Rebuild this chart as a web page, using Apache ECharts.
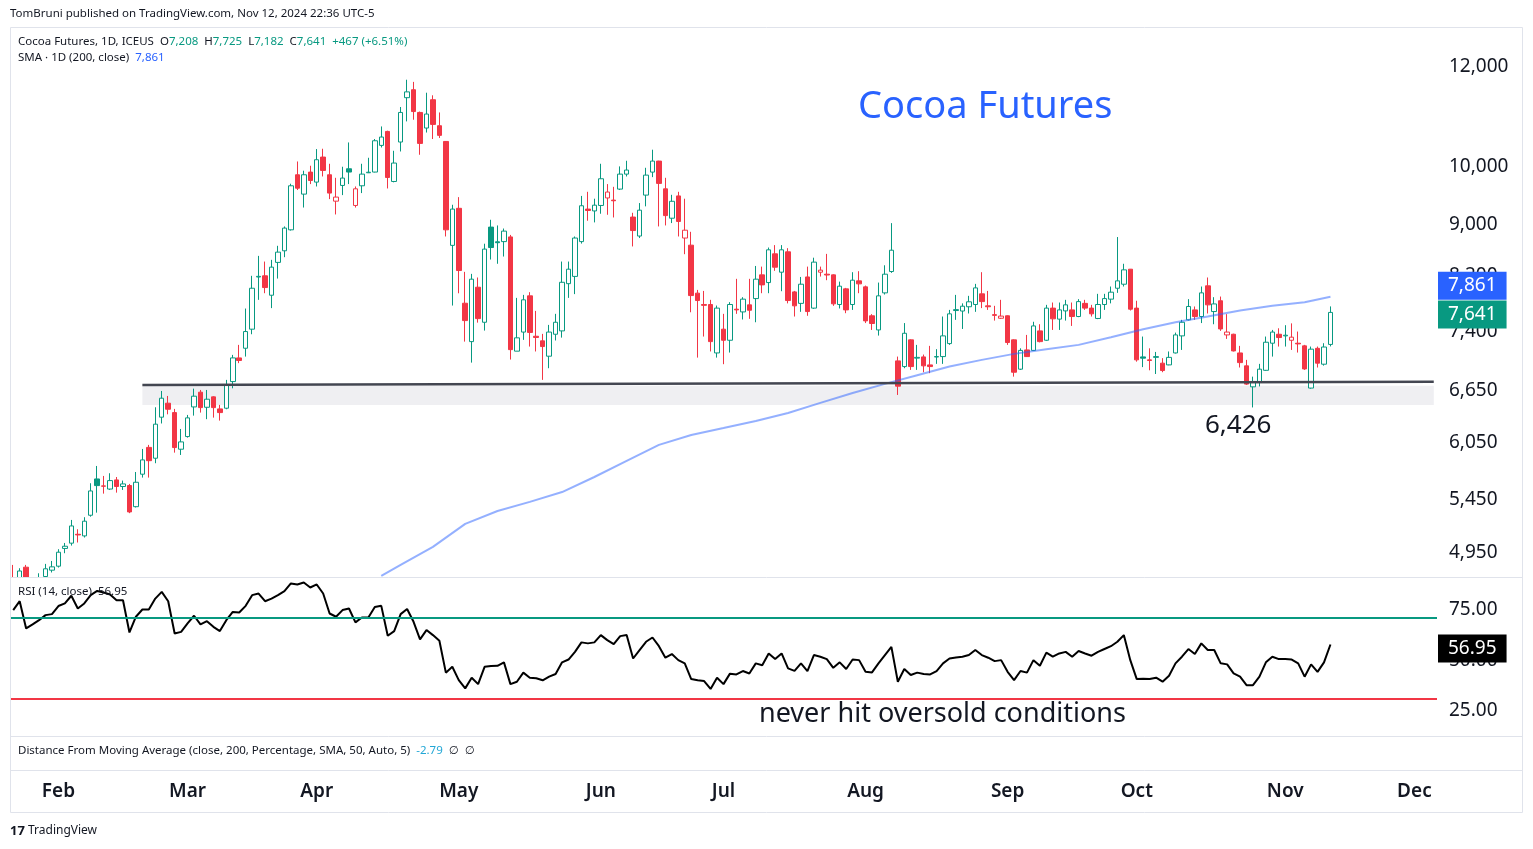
<!DOCTYPE html>
<html>
<head>
<meta charset="utf-8">
<title>Cocoa Futures</title>
<script src="https://cdn.jsdelivr.net/npm/echarts@6/dist/echarts.min.js"></script>
<style>
html, body { margin: 0; padding: 0; background: #fff; }
#chart { width: 1533px; height: 849px; }
</style>
</head>
<body>
<div id="chart"></div>
<script>
// ICE US cocoa, daily bars from 23 Jan 2024 to 12 Nov 2024
var openPx = [4700,4700,4803,4680,4650,4722,4777,4812,4970,5018,
  5100,5085,5280,5641,5570,5538,5631,5564,5574,5363,
  5690,5975,5858,6313,6476,6366,5955,6094,6432,6607,
  6428,6551,6409,6417,6736,7033,7158,7411,8150,8168,
  7884,8370,8549,8882,9819,9479,9867,9689,10141,9819,
  9358,9630,9927,9285,9624,9855,9868,10359,10626,9700,
  10423,11300,11465,11000,10692,11258,10737,10434,8634,9237,
  7770,7245,8000,7505,8926,8690,8693,8768,7120,7372,
  7875,7316,7255,7055,7343,7388,8052,8159,8693,9224,
  9193,9285,9413,9376,9566,9831,9091,8782,9462,9867,
  10067,9571,9072,9448,8750,8637,7914,7752,7752,7097,
  7411,7263,7686,7648,7747,7836,8182,8068,8502,8222,
  8533,7932,7768,8151,7701,8222,8192,8182,7752,7976,
  7752,8093,8005,7594,7401,7918,8232,6995,6923,7268,
  7030,7046,6944,7045,7050,7219,7667,7660,7720,7752,
  7904,7733,7610,7560,7594,7268,6890,7136,7130,7388,
  7263,7701,7548,7662,7676,7584,7768,7701,7557,7752,
  7828,7985,8044,8267,7701,7046,7008,7040,6966,6944,
  7097,7321,7538,7676,7584,8020,7653,7805,7334,7343,
  7097,6932,6672,6730,6876,7224,7343,7321,7263,7224,
  7189,6657,7157,6953,7208];
var highPx = [4823,4794,4823,4705,4750,4832,4858,4963,5020,5235,
  5147,5261,5597,5776,5672,5700,5661,5624,5590,5713,
  5958,6002,6428,6622,6562,6409,6179,6339,6650,6634,
  6634,6558,6456,6757,7072,7202,7695,8168,8470,8383,
  8409,8627,8937,9660,10060,9892,9982,10290,10296,10018,
  9765,9964,10415,9612,10018,10128,10480,10723,10640,10258,
  11110,11676,11630,11018,11403,11349,11000,10440,9297,9427,
  8227,8197,8143,8660,9046,8953,8903,8800,7846,7889,
  7928,7662,7348,7469,7621,8383,8383,8775,9448,9519,
  9400,10018,9654,9606,9970,10073,9162,9326,9945,10278,
  10073,9765,9467,9519,9400,8850,7961,7946,7818,7737,
  7621,7785,8123,7856,8123,8316,8306,8600,8638,8638,
  8590,7946,8151,8306,8442,8306,8501,8190,8082,7990,
  8222,8237,8024,7617,8068,8326,8991,7050,7494,7275,
  7202,7076,7189,7146,7584,7676,7889,7768,7875,8049,
  8222,7946,7733,7818,7600,7275,7157,7334,7512,7478,
  7747,7780,7780,7818,7780,7828,7818,7747,7904,7904,
  8010,8766,8349,8270,7805,7312,7157,7110,7030,7116,
  7365,7538,7828,7724,8010,8143,7856,7865,7617,7350,
  7189,7008,6797,6957,7312,7401,7423,7465,7490,7379,
  7202,7180,7180,7224,7725];
var lowPx = [4640,4680,4660,4610,4620,4700,4757,4800,4927,4996,
  5024,5070,5266,5305,5492,5529,5502,5529,5300,5355,
  5655,5655,5805,6241,6346,5918,5893,6082,6331,6366,
  6290,6308,6274,6405,6654,6966,7050,7343,7818,7913,
  7701,8127,8450,8870,9550,9250,9654,9612,9789,9393,
  9134,9462,9654,9250,9497,9850,9862,10320,9577,9685,
  10245,10822,10855,10184,10605,10480,10500,8775,7737,7912,
  7245,6973,7500,7392,8414,8349,8460,7012,7120,7268,
  7180,7116,6757,6902,7260,7298,7846,7900,8662,9030,
  9003,9146,9129,9084,9550,9789,8617,8750,9270,9777,
  8937,8953,8992,8775,8496,7643,7037,7312,7116,7037,
  6953,7102,7621,7543,7552,7505,7913,7913,8242,7942,
  7768,7584,7649,7594,7690,8157,8103,7733,7696,7630,
  7676,7913,7494,7401,7325,7894,8212,6574,6902,6881,
  6881,6852,6840,6957,6957,7202,7538,7414,7626,7649,
  7701,7676,7528,7550,7202,6797,6880,7045,7125,7235,
  7255,7401,7401,7528,7455,7575,7676,7584,7548,7676,
  7768,7918,8010,7667,6985,6916,6876,6830,6852,6940,
  7090,7136,7530,7538,7494,7626,7478,7388,7281,7116,
  6911,6695,6426,6677,6870,7050,7180,7180,7136,7102,
  6881,6650,6911,6935,7182];
var closePx = [4690,4770,4690,4640,4700,4789,4806,4936,4990,5178,
  5094,5223,5519,5573,5567,5624,5564,5590,5312,5607,
  5840,5832,6233,6535,6405,5973,6035,6305,6559,6424,
  6523,6424,6366,6695,7033,7000,7379,7985,8160,7995,
  8298,8528,8910,9624,9582,9819,9717,10092,9897,9497,
  9428,9760,9868,9571,9831,9865,10447,10518,9771,10031,
  11000,11420,11018,10397,10968,10763,10550,8882,9224,8247,
  7528,8118,7555,8575,8600,8676,8861,7140,7295,7818,
  7367,7300,7180,7372,7505,8072,8267,8750,9280,9200,
  9290,9748,9515,9365,9831,9904,8870,9206,9813,10067,
  9666,9115,9356,9018,8876,7879,7808,7740,7245,7701,
  7263,7752,7676,7828,7671,8118,8034,8564,8297,8564,
  7808,7733,8044,7653,8374,8253,8180,7761,8015,7676,
  8103,8049,7524,7488,7875,8192,8558,6680,7356,6923,
  7040,6932,6923,7050,7321,7621,7680,7728,7790,7990,
  7793,7720,7600,7590,7233,6852,7130,7050,7455,7245,
  7701,7552,7676,7747,7584,7793,7701,7621,7752,7836,
  7928,8093,8257,7686,7008,7030,7000,7050,6873,7040,
  7334,7505,7724,7584,7918,7747,7760,7414,7372,7123,
  6973,6705,6730,6890,7237,7372,7299,7330,7304,7215,
  6893,7146,6966,7174,7641];

// RSI(14) per bar
var rsi14 = [74.0,78.4,64.9,66.9,69.0,71.5,72.0,76.0,77.3,81.1,
  74.8,77.3,81.4,83.5,82.7,81.7,78.9,78.9,62.9,70.7,
  74.3,74.3,79.7,83.0,78.4,62.4,63.2,67.4,71.2,66.9,
  68.5,65.7,63.6,69.0,73.1,72.8,76.1,81.4,82.2,78.4,
  79.7,81.4,83.4,87.2,86.7,87.7,85.2,86.7,82.2,72.3,
  70.7,74.0,74.8,67.9,70.3,70.3,75.5,76.1,61.3,63.6,
  72.0,74.5,68.2,59.5,64.1,61.6,58.8,43.0,45.9,39.3,
  35.2,40.5,37.3,45.9,46.3,46.4,48.1,37.3,38.5,43.0,
  40.5,40.2,39.2,41.0,42.3,48.1,49.5,53.3,58.0,57.5,
  58.0,61.6,59.1,57.1,61.1,61.6,50.0,54.2,58.3,60.4,
  56.1,50.4,52.2,49.2,47.6,39.8,39.2,38.8,34.9,40.5,
  37.3,42.5,42.1,43.8,42.6,47.6,46.7,52.5,49.7,52.5,
  45.1,43.9,47.6,43.8,51.7,50.9,49.7,45.4,48.1,44.8,
  49.5,49.2,43.4,43.1,47.6,51.7,55.8,38.5,44.8,41.8,
  43.0,42.3,42.1,43.8,47.6,50.0,50.5,50.9,51.7,54.2,
  51.7,50.4,48.7,49.2,43.4,39.3,43.8,43.0,49.2,46.4,
  52.9,50.9,52.5,53.3,50.9,53.7,52.5,51.4,53.3,54.7,
  56.1,58.3,61.6,49.2,39.8,40.0,39.8,40.5,38.5,41.5,
  47.6,50.9,54.7,52.2,57.5,54.2,54.2,47.6,47.1,42.6,
  41.0,36.8,36.8,41.0,48.1,50.9,49.7,49.7,49.5,47.6,
  41.0,47.1,43.4,48.1,56.95];

// 200-day SMA, read at a handful of bars
var smaIndex = [57,60,65,70,75,80,85,90,95,100,105,110,115,120,125,130,135,140,145,150,155,160,165,170,175,180,185,190,195,200,204];
var smaValue = [4727,4823,4984,5197,5321,5410,5508,5661,5829,6002,6112,6190,6270,6362,6480,6598,6708,6815,6923,7008,7085,7145,7202,7303,7411,7505,7584,7667,7733,7785,7861];

var priceTicks = [12000, 10000, 9000, 8200, 7400, 6650, 6050, 5450, 4950];
var rsiTicks = [75, 50, 25];
var rsiBands = [70, 30];
var supportLine = [6695, 6735];   // drawn from bar 20 to the right edge
var supportZone = [6685, 6456];
var dmaValue = -2.79;

var holidays = ['2024-02-19','2024-03-29','2024-05-27','2024-06-19','2024-07-04','2024-09-02','2024-11-28'];
var monthNames = ['Jan','Feb','Mar','Apr','May','Jun','Jul','Aug','Sep','Oct','Nov','Dec'];

// trading days, running on into early December like the time scale does
var days = [];
var d = new Date(Date.UTC(2024, 0, 23));
while (d.getTime() <= Date.UTC(2024, 11, 5)) {
  var s = d.toISOString().slice(0, 10);
  var wd = d.getUTCDay();
  if (wd !== 0 && wd !== 6 && holidays.indexOf(s) < 0) days.push(s);
  d.setUTCDate(d.getUTCDate() + 1);
}

var FONT = "'Noto Sans', 'DejaVu Sans', sans-serif";
var INK = '#131722';
var GREEN = '#089981', RED = '#f23645', BLUE = '#2962ff';
var NOLINE = { color: 'rgba(0,0,0,0)', width: 1, type: 'solid' };

function fmt(v) {
  return String(Math.round(v)).replace(/\B(?=(\d{3})+(?!\d))/g, ',');
}

// hollow candles: body hollow when close > open, colour from close vs previous close
var candles = openPx.map(function (o, i) {
  var c = closePx[i];
  var prev = i > 0 ? closePx[i - 1] : o;
  var col = c >= prev ? GREEN : RED;
  var fill = c > o ? '#ffffff' : col;
  return {
    value: [o, c, lowPx[i], highPx[i]],
    itemStyle: { color: fill, color0: fill, borderColor: col, borderColor0: col, borderColorDoji: col, borderWidth: 1 }
  };
});

var smaSeries = days.map(function () { return null; });
smaIndex.forEach(function (k, j) { smaSeries[k] = smaValue[j]; });

var last = closePx.length - 1;
var chg = closePx[last] - closePx[last - 1];
var pct = chg / closePx[last - 1] * 100;
var sign = chg >= 0 ? '+' : '';
var lastSma = smaValue[smaValue.length - 1];
var lastRsi = rsi14[rsi14.length - 1];

function axisText(v, txt) {
  return {
    yAxis: v,
    lineStyle: NOLINE,
    label: { show: true, position: 'end', distance: 12, formatter: txt, color: INK, fontSize: 19, fontFamily: FONT, offset: [0, 2] }
  };
}
function valueBox(v, txt, bg, dy) {
  return {
    yAxis: v,
    lineStyle: NOLINE,
    label: {
      show: true, position: 'end', distance: 1, formatter: txt, color: '#ffffff',
      backgroundColor: bg, padding: [5, 10, 4, 10], fontSize: 19, fontFamily: FONT, offset: [0, dy || 0]
    }
  };
}

var priceMarks = priceTicks.map(function (v) { return axisText(v, fmt(v)); });
priceMarks.push([
  { coord: [20, supportLine[0]], lineStyle: { color: '#434651', width: 2.5, type: 'solid' }, label: { show: false } },
  { coord: [days.length - 1, supportLine[1]] }
]);
priceMarks.push(valueBox(lastSma, fmt(lastSma), BLUE, -11));
priceMarks.push(valueBox(closePx[last], fmt(closePx[last]), GREEN, 2));

var rsiMarks = rsiBands.map(function (v) {
  return { yAxis: v, lineStyle: { color: v > 50 ? GREEN : RED, width: 2, type: 'solid' }, label: { show: false } };
});
rsiTicks.forEach(function (v) { rsiMarks.push(axisText(v, v.toFixed(2))); });
rsiMarks.push(valueBox(lastRsi, lastRsi.toFixed(2), '#000000', 4));

function txt(x, y, text, size, color, rich, weight) {
  var st = {
    text: text, fill: color || INK, fontSize: size, fontFamily: FONT, fontWeight: weight || 'normal',
    align: 'left', textAlign: 'left', verticalAlign: 'middle', textVerticalAlign: 'middle'
  };
  if (rich) st.rich = rich;
  return { type: 'text', x: x, y: y, silent: true, z: 20, style: st };
}
function hline(y) {
  return { type: 'line', silent: true, z: 20, shape: { x1: 10, y1: y, x2: 1523, y2: y }, style: { stroke: '#e0e3eb', lineWidth: 1 } };
}

var small = {
  k: { fill: INK, fontSize: 11.5, fontFamily: FONT },
  g: { fill: GREEN, fontSize: 11.5, fontFamily: FONT },
  b: { fill: BLUE, fontSize: 11.5, fontFamily: FONT },
  c: { fill: '#22a7d6', fontSize: 11.5, fontFamily: FONT }
};

var legend1 = '{k|Cocoa Futures, 1D, ICEUS  O}{g|' + fmt(openPx[last]) + '}{k|  H}{g|' + fmt(highPx[last]) +
  '}{k|  L}{g|' + fmt(lowPx[last]) + '}{k|  C}{g|' + fmt(closePx[last]) + '}{g|  ' + sign + fmt(chg) +
  ' (' + sign + pct.toFixed(2) + '%)}';
var legend2 = '{k|SMA · 1D (200, close)  }{b|' + fmt(lastSma) + '}';
var legendRsi = '{k|RSI (14, close)  ' + lastRsi.toFixed(2) + '}';
var legendDma = '{k|Distance From Moving Average (close, 200, Percentage, SMA, 50, Auto, 5)  }{c|' +
  dmaValue.toFixed(2) + '}{k|  ∅  ∅}';

var chart = echarts.init(document.getElementById('chart'));
var option = {
  animation: false,
  backgroundColor: '#ffffff',
  textStyle: { fontFamily: FONT },
  grid: [
    { left: 10, top: 28, width: 1427, height: 549 },
    { left: 10, top: 578, width: 1427, height: 158 },
    { left: 10, top: 737, width: 1427, height: 33 }
  ],
  xAxis: [0, 1, 2].map(function (g) {
    return {
      type: 'category', gridIndex: g, data: days, boundaryGap: true,
      axisLine: { show: false }, axisTick: { show: false }, splitLine: { show: false },
      axisLabel: g !== 2 ? { show: false } : {
        show: true, margin: 12, color: INK, fontSize: 19, fontWeight: 600, fontFamily: FONT,
        interval: function (i, v) { return i > 0 && v.slice(5, 7) !== days[i - 1].slice(5, 7); },
        formatter: function (v) { return monthNames[+v.slice(5, 7) - 1]; }
      }
    };
  }),
  yAxis: [
    { type: 'log', logBase: 10, gridIndex: 0, min: 4718, max: 12830, show: false, splitLine: { show: false } },
    { type: 'value', gridIndex: 1, min: 11.6, max: 89.9, show: false, splitLine: { show: false } },
    { type: 'value', gridIndex: 2, min: 0, max: 1, show: false, splitLine: { show: false } }
  ],
  series: [
    {
      name: 'Cocoa Futures', type: 'candlestick', xAxisIndex: 0, yAxisIndex: 0,
      data: candles, barWidth: 5, z: 2,
      markArea: {
        silent: true, z: 1, itemStyle: { color: '#efeff2' },
        data: [[{ coord: [20, supportZone[0]] }, { coord: [days.length - 1, supportZone[1]] }]]
      },
      markLine: { silent: true, symbol: ['none', 'none'], z: 5, label: { show: false }, data: priceMarks }
    },
    {
      name: 'SMA', type: 'line', xAxisIndex: 0, yAxisIndex: 0, data: smaSeries, connectNulls: true,
      symbol: 'none', z: 3, lineStyle: { color: BLUE, width: 2, opacity: 0.5 }
    },
    {
      name: 'RSI', type: 'line', xAxisIndex: 1, yAxisIndex: 1, data: rsi14, symbol: 'none', z: 3,
      lineStyle: { color: '#000000', width: 2 },
      markLine: { silent: true, symbol: ['none', 'none'], z: 5, label: { show: false }, data: rsiMarks }
    },
    { name: 'DMA', type: 'line', xAxisIndex: 2, yAxisIndex: 2, data: [] }
  ],
  graphic: [
    // keep bars that run below the price pane out of the RSI pane
    { type: 'rect', silent: true, z: 15, shape: { x: 10, y: 578, width: 45, height: 14 }, style: { fill: '#ffffff' } },
    { type: 'rect', silent: true, z: 20, shape: { x: 10.5, y: 27.5, width: 1512, height: 785 }, style: { fill: 'none', stroke: '#e0e3eb', lineWidth: 1 } },
    hline(577.5), hline(736.5), hline(770.5),
    txt(10, 14, 'TomBruni published on TradingView.com, Nov 12, 2024 22:36 UTC-5', 11.5),
    txt(18, 42, legend1, 11.5, INK, small),
    txt(18, 58, legend2, 11.5, INK, small),
    txt(858, 107, 'Cocoa Futures', 38, BLUE),
    txt(1205, 426, fmt(Math.min.apply(null, lowPx.slice(150))), 26),
    txt(18, 592, legendRsi, 11.5, INK, small),
    txt(759, 714, 'never hit oversold conditions', 27),
    txt(18, 751, legendDma, 11.5, INK, small),
    txt(10, 831, '{l|17}{t| TradingView}', 12, INK, {
      l: { fill: INK, fontSize: 13, fontWeight: 'bold', fontFamily: FONT },
      t: { fill: INK, fontSize: 12, fontFamily: FONT }
    })
  ]
};
chart.setOption(option);
</script>
</body>
</html>
